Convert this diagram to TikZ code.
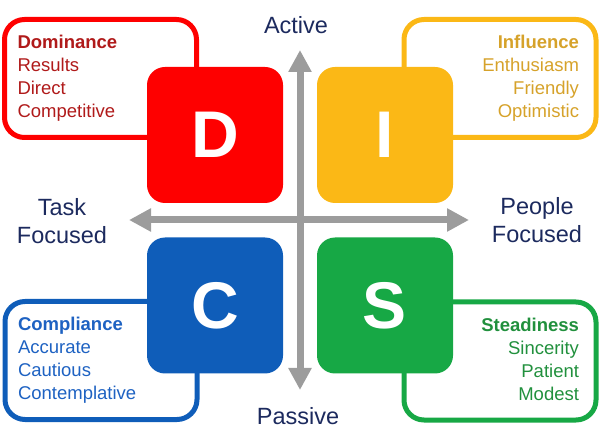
\documentclass[tikz,border=0pt]{standalone}
\usepackage{fontspec}
\setmainfont{Liberation Sans}
\usetikzlibrary{arrows.meta}
\definecolor{dred}{HTML}{FE0000}
\definecolor{dredtext}{HTML}{B01A1A}
\definecolor{iyellow}{HTML}{FBB816}
\definecolor{iyellowtext}{HTML}{D6A22A}
\definecolor{sgreen}{HTML}{17A845}
\definecolor{sgreentext}{HTML}{21903D}
\definecolor{cblue}{HTML}{0F5DB9}
\definecolor{cbluetext}{HTML}{1E62C2}
\definecolor{navy}{HTML}{1C2A5E}
\definecolor{axisgray}{HTML}{9C9C9C}

\begin{document}
\begin{tikzpicture}[x=1pt, y=-1pt,
    square/.style={rounded corners=18pt, minimum size=136pt, inner sep=0pt,
        text=white, font=\fontsize{66}{66}\selectfont\bfseries},
    card/.style={draw, line width=5pt, rounded corners=20pt, minimum width=192pt,
        minimum height=118pt, font=\fontsize{18.5}{23}\selectfont},
    leftcard/.style={card, inner xsep=13pt, text width=166pt, align=left},
    rightcard/.style={card, inner xsep=17pt, text width=158pt, align=right},
    axislabel/.style={text=navy, align=center, font=\fontsize{23.5}{28}\selectfont},
    axis/.style={draw=axisgray, line width=7pt,
        {Triangle[width=22pt,length=22pt]}-{Triangle[width=22pt,length=22pt]}}]
    \useasboundingbox (0,0) rectangle (600,446);

    % cards behind the squares
    \node[leftcard, draw=dred, text=dredtext] (dcard) at (100.5,78.5)
        {\textbf{Dominance}\\Results\\Direct\\Competitive};
    \node[rightcard, draw=iyellow, text=iyellowtext] (icard) at (500,78.5)
        {\textbf{Influence}\\Enthusiasm\\Friendly\\Optimistic};
    \node[leftcard, draw=cblue, text=cbluetext] (ccard) at (101,360.5)
        {\textbf{Compliance}\\Accurate\\Cautious\\Contemplative};
    \node[rightcard, draw=sgreen, text=sgreentext] (scard) at (500,361)
        {\textbf{Steadiness}\\Sincerity\\Patient\\Modest\vphantom{p}};

    \node[square, fill=dred] (d) at (215,135) {D};
    \node[square, fill=iyellow] (i) at (385,135) {I};
    \node[square, fill=cblue] (c) at (215,305.5) {C};
    \node[square, fill=sgreen] (s) at (385,305.5) {S};

    % axes
    \coordinate (top) at (300,50);
    \coordinate (bottom) at (300,390);
    \coordinate (left) at (129,220);
    \coordinate (right) at (469,220);
    \draw[axis] (left) -- (right);
    \draw[axis] (bottom) -- (top);

    \node[axislabel] (active) at (296,25) {Active};
    \node[axislabel] (passive) at (298,416) {Passive};
    \node[axislabel] (task) at (62,221) {Task\\Focused};
    \node[axislabel] (people) at (537,220) {People\\Focused};
\end{tikzpicture}
\end{document}
